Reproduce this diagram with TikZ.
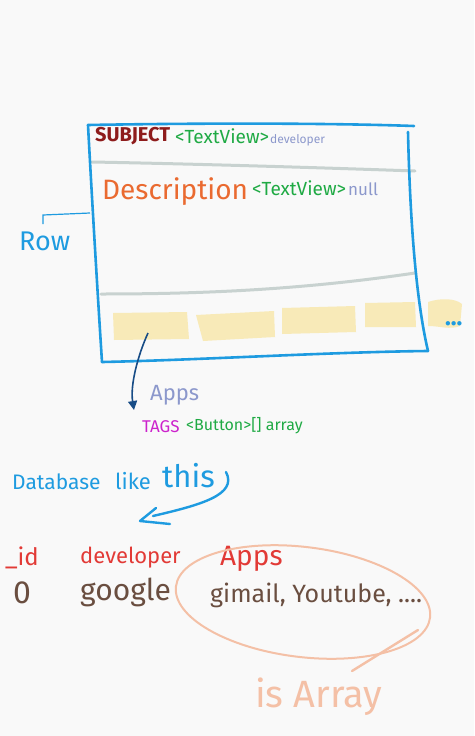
\documentclass[tikz,border=0pt]{standalone}
\usepackage{fontspec}
\setmainfont{Fira Sans}
\usetikzlibrary{arrows.meta}
\definecolor{bg}{HTML}{F9F9F9}
\definecolor{boxblue}{HTML}{1E9BE0}
\definecolor{sepgray}{HTML}{C8D2D0}
\definecolor{tagyellow}{HTML}{F8EAB8}
\definecolor{subjred}{HTML}{8E1C1C}
\definecolor{tvgreen}{HTML}{1FAA44}
\definecolor{valblue}{HTML}{8C98CC}
\definecolor{descorange}{HTML}{EA6A30}
\definecolor{navy}{HTML}{174C86}
\definecolor{tagmag}{HTML}{CC22CC}
\definecolor{hdrred}{HTML}{E23A36}
\definecolor{valbrown}{HTML}{6A4E40}
\definecolor{peach}{HTML}{F4C0A6}
\tikzset{
  txt/.style={inner sep=0pt, anchor=base west},
}
\newcommand{\fsz}[1]{\fontsize{#1}{#1}\selectfont}
\begin{document}
\begin{tikzpicture}[x=1pt,y=-1pt]
\useasboundingbox (0,0) rectangle (474,736);
\fill[bg] (0,0) rectangle (474,736);
% yellow tags
\fill[tagyellow] (113,313) -- (187,312) -- (189,339) -- (114,340) -- cycle;
\fill[tagyellow] (196,315) -- (274,311) -- (275,337) -- (203,341) -- cycle;
\fill[tagyellow] (282,308) -- (355,306) -- (356,332) -- (282,334) -- cycle;
\fill[tagyellow] (365,303) -- (415,302) -- (416,327) -- (365,327) -- cycle;
\fill[tagyellow] (428,302) .. controls (440,298) and (455,298) .. (462,304) -- (460,326) .. controls (450,330) and (440,326) .. (428,326) -- cycle;
% separator lines
\draw[sepgray, line width=3pt, line cap=round] (92,162) .. controls (200,164) and (330,168) .. (415,171);
\draw[sepgray, line width=3pt, line cap=round] (101,294) .. controls (200,294) and (300,290) .. (415,273);
% box
\draw[boxblue, line width=2.6pt, line cap=round, line join=round]
  (88,125) .. controls (200,123) and (330,123) .. (414,126);
\draw[boxblue, line width=2.6pt, line cap=round]
  (88,125) .. controls (92,200) and (98,300) .. (102,362);
\draw[boxblue, line width=2.6pt, line cap=round]
  (408,132) .. controls (410,220) and (416,300) .. (428,351);
\draw[boxblue, line width=2.6pt, line cap=round]
  (102,362) .. controls (200,360) and (330,352) .. (428,351);
% dots
\node[txt, text=boxblue, font=\bfseries\fsz{24}] (dots) at (445,325) {...};
% texts in box
\node[txt, text=subjred, font=\bfseries\fsz{20}] (subj) at (95,141) {SUBJECT};
\node[txt, text=tvgreen, font=\fsz{19}] (tv1) at (175,143) {<TextView>};
\node[txt, text=valblue, font=\fsz{12}] (dev) at (270,143) {developer};
\node[txt, text=descorange, font=\fsz{28}] (desc) at (102,199) {Description};
\node[txt, text=tvgreen, font=\fsz{19}] (tv2) at (252,195) {<TextView>};
\node[txt, text=valblue, font=\fsz{17}] (null) at (348,195) {null};
% Row
\node[txt, text=boxblue, font=\fsz{27}] (row) at (19,250) {Row};
\coordinate (rowtop) at (43,224);
\coordinate (rowbox) at (90,213);
\draw[boxblue, line width=1.2pt] (rowtop) -- (43,215) -- (rowbox);
% arrow to Apps
\coordinate (tagsrc) at (148,333);
\node[txt, text=valblue, font=\fsz{22}] (apps) at (150,400) {Apps};
\node[txt, text=tagmag, font=\fsz{17}] (tags) at (142,432) {TAGS};
\node[txt, text=tvgreen, font=\fsz{16}] (btn) at (186,430) {<Button>[] array};
\coordinate (arrend) at (134,410);
\draw[navy, line width=1.6pt, -{Triangle[length=9pt,width=9pt]}] (tagsrc) .. controls (138,355) and (130,385) .. (arrend);
% database like this
\node[txt, text=boxblue, font=\fsz{21}] (db) at (12,489) {Database};
\node[txt, text=boxblue, font=\fsz{22}] (like) at (115,489) {like};
\node[txt, text=boxblue, font=\fsz{31}] (this) at (162,487) {this};
\coordinate (curvestart) at (226,472);
\coordinate (curveend) at (140,521);
\draw[boxblue, line width=2.4pt, line cap=round] (curvestart) .. controls (238,495) and (200,505) .. (153,516);
\draw[boxblue, line width=2.4pt, line cap=round, line join=round] (156,508) -- (curveend) -- (170,524);
% table
\node[txt, text=hdrred, font=\fsz{24}] (hid) at (5,565) {\_id};
\node[txt, text=hdrred, font=\fsz{22}] (hdev) at (80,563) {developer};
\node[txt, text=hdrred, font=\fsz{28}] (happs) at (220,565) {Apps};
\node[txt, text=valbrown, font=\fsz{32}] (v0) at (13,603) {0};
\node[txt, text=valbrown, font=\fsz{30}] (vg) at (80,600) {google};
\node[txt, text=valbrown, font=\fsz{25}] (vapps) at (210,602) {gimail, Youtube, ....};
% ellipse
\draw[peach, line width=2pt, rotate around={-7:(303,602)}] (303,602) ellipse [x radius=128, y radius=55];
\node[txt, text=peach, font=\fsz{38}] (isarr) at (255,707) {is Array};
\coordinate (tailstart) at (418,630);
\draw[peach, line width=2.4pt, line cap=round] (tailstart) -- (352,671);
\end{tikzpicture}
\end{document}
